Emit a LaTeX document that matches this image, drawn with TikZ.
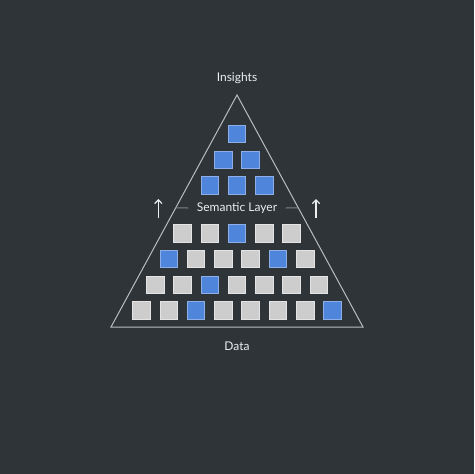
\documentclass[tikz,border=0pt]{standalone}
\usepackage{fontspec}
\setmainfont{Lato}
\usetikzlibrary{arrows.meta,calc}

\definecolor{bgdark}{HTML}{2E3438}
\definecolor{edgegray}{HTML}{B8BDC0}
\definecolor{dimgray}{HTML}{7E8488}
\definecolor{txtwhite}{HTML}{ECEEEF}
\definecolor{boxblue}{HTML}{4F86DB}
\definecolor{boxblueln}{HTML}{8DAFE6}
\definecolor{boxgray}{HTML}{CDCDCD}
\definecolor{boxgrayln}{HTML}{E4E4E4}

\tikzset{every picture/.style={line width=0.75pt}}
\tikzset{
  sqb/.style={draw=boxblueln,fill=boxblue,line width=0.6pt,minimum size=13.2pt,inner sep=0pt},
  sqg/.style={draw=boxgrayln,fill=boxgray,line width=0.6pt,minimum size=13.2pt,inner sep=0pt},
  lbl/.style={text=txtwhite,font=\fontsize{9}{11}\selectfont,inner sep=2pt},
  uparrow/.style={draw=txtwhite,line width=0.9pt,-{Straight Barb[length=2.8pt,width=5.5pt]}}
}

\begin{document}
\begin{tikzpicture}[x=0.75pt,y=0.75pt,yscale=-1,xscale=1]
%background, sets diagram size 474 x 474
\fill[bgdark] (0,0) rectangle (474,474);

%Triangle
\coordinate (apex) at (237,95);
\coordinate (bl) at (111,327);
\coordinate (br) at (363,327);
\draw[edgegray] (apex) -- (br) -- (bl) -- cycle;

%Squares, row by row
\foreach \r/\y/\n/\cols in {1/134/1/{b},2/159.7/2/{b,b},3/185.3/3/{b,b,b},
    4/233.3/5/{g,g,b,g,g},5/259/6/{b,g,g,g,b,g},6/284.7/7/{g,g,b,g,g,g,g},
    7/310.4/8/{g,g,b,g,g,g,g,b}}{
  \foreach \c [count=\i] in \cols {
    \node[sq\c] (s\r-\i) at ({237+(\i-(\n+1)/2)*27.3},\y) {};
  }
}

% Text Nodes
\node[lbl] (insights) at (237,78) {Insights};
\node[lbl] (data) at (237,346) {Data};
\node[lbl] (sem) at (237,208) {Semantic Layer};

%Semantic layer ticks
\coordinate (semL) at ($(apex)!0.487!(bl)$);
\coordinate (semR) at ($(apex)!0.487!(br)$);
\draw[dimgray] (semL) -- ([xshift=-4pt]sem.west);
\draw[dimgray] (semR) -- ([xshift=4pt]sem.east);

%Arrows
\coordinate (arLfoot) at (158.3,218);
\coordinate (arLhead) at (158.3,199);
\coordinate (arRfoot) at (316,218);
\coordinate (arRhead) at (316,199);
\draw[uparrow] (arLfoot) -- (arLhead);
\draw[uparrow] (arRfoot) -- (arRhead);

\end{tikzpicture}
\end{document}
